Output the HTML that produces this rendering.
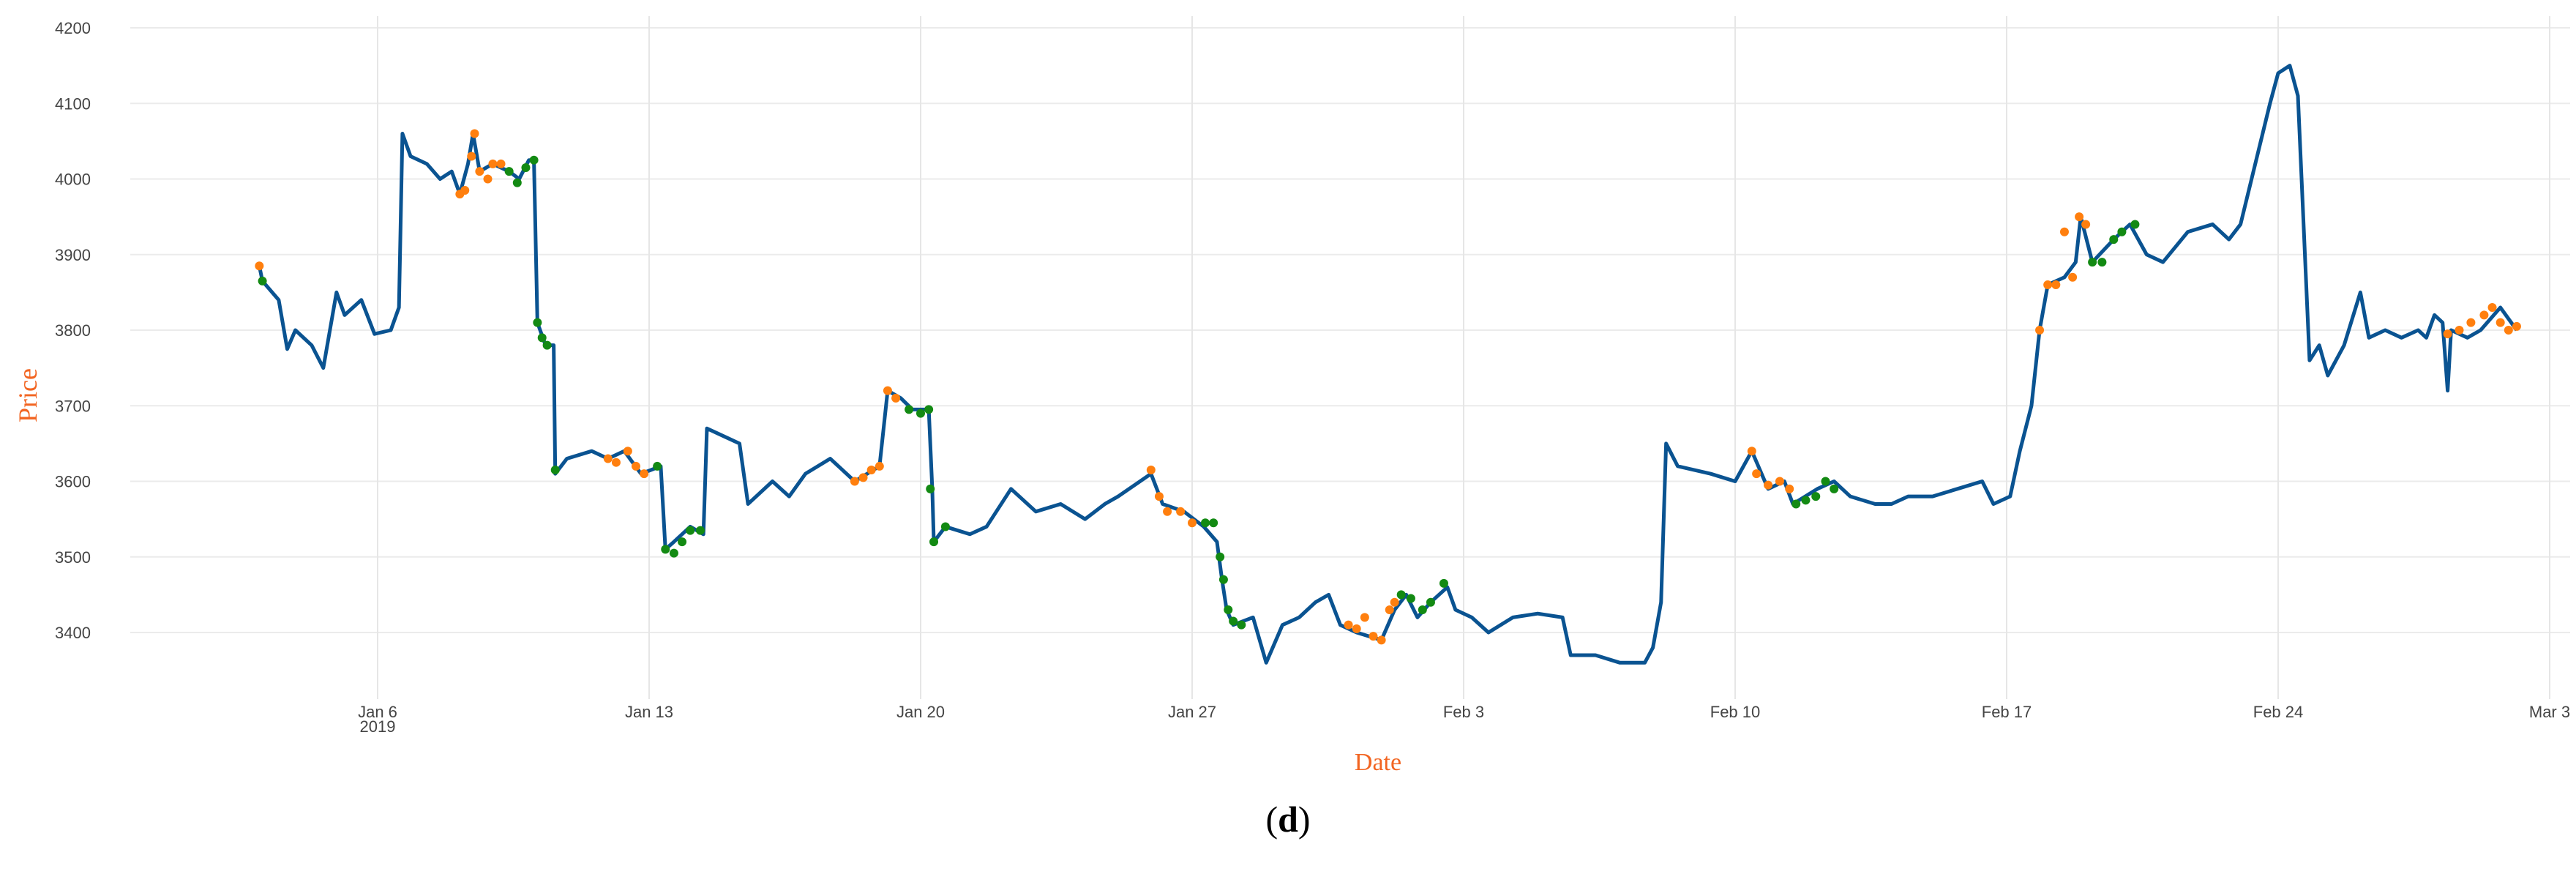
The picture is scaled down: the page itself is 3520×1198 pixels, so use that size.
<!DOCTYPE html>
<html><head><meta charset="utf-8"><style>
html,body{margin:0;padding:0;background:#fff;width:3520px;height:1198px;overflow:hidden}
svg{display:block}
.tick{font-family:"Liberation Sans",sans-serif;font-size:22px;fill:#444}
</style></head><body>
<svg id="chart" width="3520" height="1198" viewBox="0 0 3520 1198" xmlns="http://www.w3.org/2000/svg">
<g id="grid"></g>
<g id="axes"></g>
<g id="series"></g>
<text x="0" y="0" transform="translate(50,540) rotate(-90)" text-anchor="middle" font-family="Liberation Serif,serif" font-size="36" fill="#f26522">Price</text>
<text x="1883" y="1052" text-anchor="middle" font-family="Liberation Serif,serif" font-size="34" fill="#f26522">Date</text>
<text x="1760" y="1136" text-anchor="middle" font-family="Liberation Serif,serif" font-size="50" fill="#000">(<tspan font-weight="bold">d</tspan>)</text>
</svg>
<script>
const yTicks=[3400,3500,3600,3700,3800,3900,4000,4100,4200];
const xTickDays=[0,7,14,21,28,35,42,49,56];
const xTickLabels=["Jan 6","Jan 13","Jan 20","Jan 27","Feb 3","Feb 10","Feb 17","Feb 24","Mar 3"];
const lineDays=[-3.05,-2.97,-2.55,-2.33,-2.12,-1.70,-1.40,-1.06,-0.85,-0.42,-0.08,0.34,0.55,0.64,0.85,1.27,1.61,1.91,2.12,2.33,2.46,2.63,2.97,3.39,3.65,3.90,4.03,4.12,4.33,4.54,4.58,4.88,5.52,5.94,6.36,6.79,7.30,7.42,7.64,8.06,8.40,8.49,8.91,9.33,9.55,10.18,10.61,11.03,11.67,12.30,12.94,13.15,13.49,13.79,14.21,14.30,14.34,14.64,15.27,15.70,16.33,16.97,17.61,18.24,18.75,19.09,19.94,20.24,20.79,21.30,21.64,21.77,21.89,22.06,22.57,22.91,23.33,23.76,24.18,24.52,24.82,25.24,25.88,26.22,26.52,26.81,27.15,27.58,27.79,28.21,28.64,29.27,29.91,30.55,30.76,31.40,32.03,32.67,32.88,33.09,33.22,33.52,34.37,35.00,35.43,35.85,36.27,36.49,37.12,37.55,37.97,38.61,39.03,39.46,40.09,40.73,41.37,41.66,42.09,42.34,42.64,42.85,43.06,43.49,43.78,43.91,44.21,44.76,45.18,45.61,46.03,46.67,47.31,47.73,48.03,48.79,49.00,49.30,49.51,49.81,50.06,50.28,50.70,51.12,51.34,51.76,52.18,52.61,52.82,53.03,53.24,53.37,53.46,53.88,54.22,54.73,55.15];
const linePrices=[3885,3865,3840,3775,3800,3780,3750,3850,3820,3840,3795,3800,3830,4060,4030,4020,4000,4010,3980,4020,4060,4010,4020,4010,4000,4025,4025,3810,3780,3780,3610,3630,3640,3630,3640,3610,3620,3510,3520,3540,3530,3670,3660,3650,3570,3600,3580,3610,3630,3600,3620,3720,3710,3695,3695,3590,3520,3540,3530,3540,3590,3560,3570,3550,3570,3580,3610,3570,3560,3540,3520,3470,3430,3410,3420,3360,3410,3420,3440,3450,3410,3400,3390,3430,3450,3420,3440,3460,3430,3420,3400,3420,3425,3420,3370,3370,3360,3360,3380,3440,3650,3620,3610,3600,3640,3590,3600,3570,3590,3600,3580,3570,3570,3580,3580,3590,3600,3570,3580,3640,3700,3800,3860,3870,3890,3950,3890,3920,3940,3900,3890,3930,3940,3920,3940,4100,4140,4150,4110,3760,3780,3740,3780,3850,3790,3800,3790,3800,3790,3820,3810,3720,3800,3790,3800,3830,3800];
const orangeDays=[-3.05,2.12,2.25,2.42,2.50,2.63,2.84,2.97,3.18,5.94,6.15,6.45,6.66,6.87,12.30,12.52,12.73,12.94,13.15,13.36,19.94,20.15,20.36,20.70,21.0,25.03,25.24,25.45,25.67,25.88,26.09,26.22,35.43,35.55,35.85,36.15,36.40,42.85,43.06,43.27,43.49,43.70,43.87,44.04,53.37,53.67,53.97,54.31,54.52,54.73,54.94,55.15];
const orangePrices=[3885,3980,3985,4030,4060,4010,4000,4020,4020,3630,3625,3640,3620,3610,3600,3605,3615,3620,3720,3710,3615,3580,3560,3560,3545,3410,3405,3420,3395,3390,3430,3440,3640,3610,3595,3600,3590,3800,3860,3860,3930,3870,3950,3940,3795,3800,3810,3820,3830,3810,3800,3805];
const greenDays=[-2.97,3.39,3.60,3.82,4.03,4.12,4.24,4.37,4.58,7.21,7.42,7.64,7.85,8.06,8.32,13.70,14.00,14.21,14.25,14.34,14.64,21.34,21.55,21.72,21.81,21.93,22.06,22.27,26.39,26.64,26.94,27.15,27.49,36.57,36.82,37.08,37.33,37.55,44.21,44.46,44.76,44.97,45.31];
const greenPrices=[3865,4010,3995,4015,4025,3810,3790,3780,3615,3620,3510,3505,3520,3535,3535,3695,3690,3695,3590,3520,3540,3545,3545,3500,3470,3430,3415,3410,3450,3445,3430,3440,3465,3570,3575,3580,3600,3590,3890,3890,3920,3930,3940];

const NS="http://www.w3.org/2000/svg";
const X=d=>516+d*53;
const Y=p=>38+(4200-p)*1.0325;
function mk(tag,attrs,parent){const e=document.createElementNS(NS,tag);for(const k in attrs)e.setAttribute(k,attrs[k]);parent.appendChild(e);return e;}
const grid=document.getElementById('grid'),axes=document.getElementById('axes'),series=document.getElementById('series');
yTicks.forEach(v=>{
  const l=mk('line',{x1:178,x2:3512,y1:Y(v),y2:Y(v),stroke:'#ebebeb','stroke-width':2},grid);
  
  
  const t=mk('text',{x:124,y:Y(v)+8,'text-anchor':'end',class:'tick'},axes);
  
  
  t.textContent=v;
});
xTickDays.forEach((d,i)=>{
  const l=mk('line',{x1:X(d),x2:X(d),y1:22,y2:955,stroke:'#e6e6e6','stroke-width':2},grid);
  
  
  const t=mk('text',{x:X(d),y:980,'text-anchor':'middle',class:'tick'},axes);
  
  
  t.textContent=xTickLabels[i];
  if(i===0){const t2=mk('text',{x:X(d),y:1000,'text-anchor':'middle',class:'tick'},axes);
    
    
    t2.textContent='2019';}
});
const pl=mk('polyline',{points:lineDays.map((d,i)=>X(d)+','+Y(linePrices[i])).join(' '),fill:'none',stroke:'#0a5391','stroke-width':5,'stroke-linejoin':'round'},series);


orangeDays.forEach((d,i)=>{
  const c=mk('circle',{cx:X(d),cy:Y(orangePrices[i]),r:6,fill:'#ff7f0e'},series);
  
  
});
greenDays.forEach((d,i)=>{
  const c=mk('circle',{cx:X(d),cy:Y(greenPrices[i]),r:6,fill:'#138a13'},series);
  
  
});
</script>
</body></html>
